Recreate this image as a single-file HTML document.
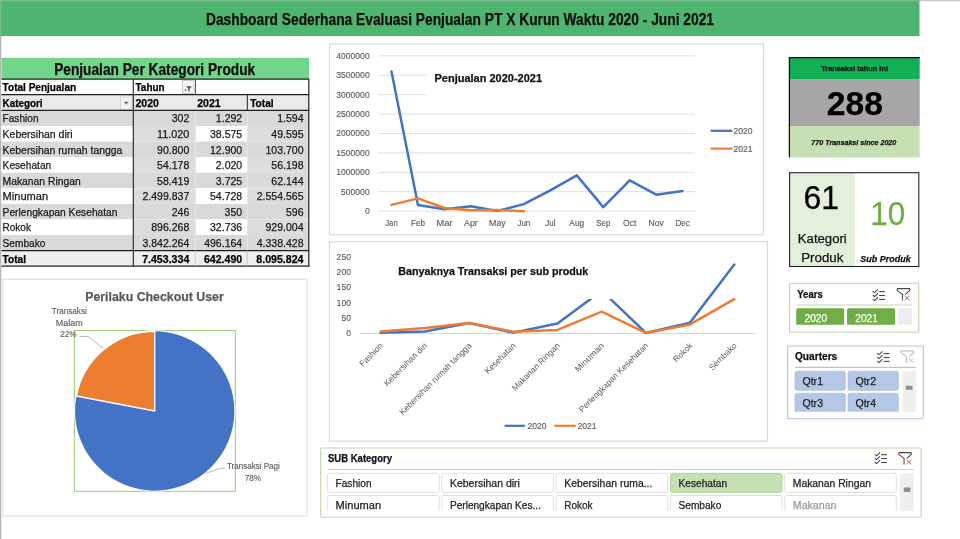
<!DOCTYPE html>
<html lang="id"><head><meta charset="utf-8"><title>Dashboard Sederhana Evaluasi Penjualan PT X</title>
<style>
html,body{margin:0;padding:0;background:#fff;}
body{width:960px;height:539px;overflow:hidden;}
svg{display:block;font-family:"Liberation Sans",sans-serif;}
</style></head><body>
<svg width="960" height="539" viewBox="0 0 960 539">
<rect x="0.00" y="0.00" width="960.00" height="1.20" fill="#cacaca"/>
<rect x="0.00" y="0.00" width="1.30" height="539.00" fill="#b6b6b6"/>
<rect x="0.00" y="0.00" width="919.50" height="36.10" fill="#4db56f"/>
<rect x="0.00" y="0.00" width="919.50" height="1.30" fill="#7dbb8f"/>
<rect x="0.00" y="0.00" width="1.30" height="36.40" fill="#7dbb8f"/>
<text x="206.00" y="24.80" font-size="17.40" font-weight="700" fill="#0d0d0d" textLength="508.00" lengthAdjust="spacingAndGlyphs" stroke="#0d0d0d" stroke-width="0.25">Dashboard Sederhana Evaluasi Penjualan PT X Kurun Waktu 2020 - Juni 2021</text>
<rect x="1.50" y="57.80" width="307.50" height="21.20" fill="#72d68a"/>
<text x="54.20" y="74.60" font-size="15.70" font-weight="700" fill="#0d0d0d" textLength="201.00" lengthAdjust="spacingAndGlyphs" stroke="#0d0d0d" stroke-width="0.25">Penjualan Per Kategori Produk</text>
<rect x="1.50" y="79.50" width="307.30" height="15.50" fill="#fff"/>
<rect x="1.50" y="95.00" width="307.30" height="15.50" fill="#e9e9e9"/>
<rect x="1.50" y="110.40" width="307.30" height="15.60" fill="#d9d9d9"/>
<text x="2.60" y="122.40" font-size="10.39" fill="#1a1a1a" textLength="35.92" lengthAdjust="spacingAndGlyphs" stroke="#1a1a1a" stroke-width="0.25">Fashion</text>
<text x="171.74" y="122.40" font-size="10.39" fill="#1a1a1a" textLength="17.56" lengthAdjust="spacingAndGlyphs" stroke="#1a1a1a" stroke-width="0.25">302</text>
<text x="215.87" y="122.40" font-size="10.39" fill="#1a1a1a" textLength="26.33" lengthAdjust="spacingAndGlyphs" stroke="#1a1a1a" stroke-width="0.25">1.292</text>
<text x="277.17" y="122.40" font-size="10.39" fill="#1a1a1a" textLength="26.33" lengthAdjust="spacingAndGlyphs" stroke="#1a1a1a" stroke-width="0.25">1.594</text>
<rect x="1.50" y="125.98" width="307.30" height="15.60" fill="#fff"/>
<rect x="133.00" y="125.98" width="62.50" height="15.60" fill="#dcdcdc"/>
<rect x="247.50" y="125.98" width="61.30" height="15.60" fill="#dcdcdc"/>
<text x="2.60" y="137.98" font-size="10.39" fill="#1a1a1a" textLength="70.03" lengthAdjust="spacingAndGlyphs" stroke="#1a1a1a" stroke-width="0.25">Kebersihan diri</text>
<text x="157.11" y="137.98" font-size="10.39" fill="#1a1a1a" textLength="32.19" lengthAdjust="spacingAndGlyphs" stroke="#1a1a1a" stroke-width="0.25">11.020</text>
<text x="210.01" y="137.98" font-size="10.39" fill="#1a1a1a" textLength="32.19" lengthAdjust="spacingAndGlyphs" stroke="#1a1a1a" stroke-width="0.25">38.575</text>
<text x="271.31" y="137.98" font-size="10.39" fill="#1a1a1a" textLength="32.19" lengthAdjust="spacingAndGlyphs" stroke="#1a1a1a" stroke-width="0.25">49.595</text>
<rect x="1.50" y="141.56" width="307.30" height="15.60" fill="#d9d9d9"/>
<text x="2.60" y="153.56" font-size="10.39" fill="#1a1a1a" textLength="119.79" lengthAdjust="spacingAndGlyphs" stroke="#1a1a1a" stroke-width="0.25">Kebersihan rumah tangga</text>
<text x="157.11" y="153.56" font-size="10.39" fill="#1a1a1a" textLength="32.19" lengthAdjust="spacingAndGlyphs" stroke="#1a1a1a" stroke-width="0.25">90.800</text>
<text x="210.01" y="153.56" font-size="10.39" fill="#1a1a1a" textLength="32.19" lengthAdjust="spacingAndGlyphs" stroke="#1a1a1a" stroke-width="0.25">12.900</text>
<text x="265.46" y="153.56" font-size="10.39" fill="#1a1a1a" textLength="38.04" lengthAdjust="spacingAndGlyphs" stroke="#1a1a1a" stroke-width="0.25">103.700</text>
<rect x="1.50" y="157.14" width="307.30" height="15.60" fill="#fff"/>
<rect x="133.00" y="157.14" width="62.50" height="15.60" fill="#dcdcdc"/>
<rect x="247.50" y="157.14" width="61.30" height="15.60" fill="#dcdcdc"/>
<text x="2.60" y="169.14" font-size="10.39" fill="#1a1a1a" textLength="48.63" lengthAdjust="spacingAndGlyphs" stroke="#1a1a1a" stroke-width="0.25">Kesehatan</text>
<text x="157.11" y="169.14" font-size="10.39" fill="#1a1a1a" textLength="32.19" lengthAdjust="spacingAndGlyphs" stroke="#1a1a1a" stroke-width="0.25">54.178</text>
<text x="215.87" y="169.14" font-size="10.39" fill="#1a1a1a" textLength="26.33" lengthAdjust="spacingAndGlyphs" stroke="#1a1a1a" stroke-width="0.25">2.020</text>
<text x="271.31" y="169.14" font-size="10.39" fill="#1a1a1a" textLength="32.19" lengthAdjust="spacingAndGlyphs" stroke="#1a1a1a" stroke-width="0.25">56.198</text>
<rect x="1.50" y="172.72" width="307.30" height="15.60" fill="#d9d9d9"/>
<text x="2.60" y="184.72" font-size="10.39" fill="#1a1a1a" textLength="78.09" lengthAdjust="spacingAndGlyphs" stroke="#1a1a1a" stroke-width="0.25">Makanan Ringan</text>
<text x="157.11" y="184.72" font-size="10.39" fill="#1a1a1a" textLength="32.19" lengthAdjust="spacingAndGlyphs" stroke="#1a1a1a" stroke-width="0.25">58.419</text>
<text x="215.87" y="184.72" font-size="10.39" fill="#1a1a1a" textLength="26.33" lengthAdjust="spacingAndGlyphs" stroke="#1a1a1a" stroke-width="0.25">3.725</text>
<text x="271.31" y="184.72" font-size="10.39" fill="#1a1a1a" textLength="32.19" lengthAdjust="spacingAndGlyphs" stroke="#1a1a1a" stroke-width="0.25">62.144</text>
<rect x="1.50" y="188.30" width="307.30" height="15.60" fill="#fff"/>
<rect x="133.00" y="188.30" width="62.50" height="15.60" fill="#dcdcdc"/>
<rect x="247.50" y="188.30" width="61.30" height="15.60" fill="#dcdcdc"/>
<text x="2.60" y="200.30" font-size="10.39" fill="#1a1a1a" textLength="45.49" lengthAdjust="spacingAndGlyphs" stroke="#1a1a1a" stroke-width="0.25">Minuman</text>
<text x="142.49" y="200.30" font-size="10.39" fill="#1a1a1a" textLength="46.81" lengthAdjust="spacingAndGlyphs" stroke="#1a1a1a" stroke-width="0.25">2.499.837</text>
<text x="210.01" y="200.30" font-size="10.39" fill="#1a1a1a" textLength="32.19" lengthAdjust="spacingAndGlyphs" stroke="#1a1a1a" stroke-width="0.25">54.728</text>
<text x="256.69" y="200.30" font-size="10.39" fill="#1a1a1a" textLength="46.81" lengthAdjust="spacingAndGlyphs" stroke="#1a1a1a" stroke-width="0.25">2.554.565</text>
<rect x="1.50" y="203.88" width="307.30" height="15.60" fill="#d9d9d9"/>
<text x="2.60" y="215.88" font-size="10.39" fill="#1a1a1a" textLength="114.90" lengthAdjust="spacingAndGlyphs" stroke="#1a1a1a" stroke-width="0.25">Perlengkapan Kesehatan</text>
<text x="171.74" y="215.88" font-size="10.39" fill="#1a1a1a" textLength="17.56" lengthAdjust="spacingAndGlyphs" stroke="#1a1a1a" stroke-width="0.25">246</text>
<text x="224.64" y="215.88" font-size="10.39" fill="#1a1a1a" textLength="17.56" lengthAdjust="spacingAndGlyphs" stroke="#1a1a1a" stroke-width="0.25">350</text>
<text x="285.94" y="215.88" font-size="10.39" fill="#1a1a1a" textLength="17.56" lengthAdjust="spacingAndGlyphs" stroke="#1a1a1a" stroke-width="0.25">596</text>
<rect x="1.50" y="219.46" width="307.30" height="15.60" fill="#fff"/>
<rect x="133.00" y="219.46" width="62.50" height="15.60" fill="#dcdcdc"/>
<rect x="247.50" y="219.46" width="61.30" height="15.60" fill="#dcdcdc"/>
<text x="2.60" y="231.46" font-size="10.39" fill="#1a1a1a" textLength="28.33" lengthAdjust="spacingAndGlyphs" stroke="#1a1a1a" stroke-width="0.25">Rokok</text>
<text x="151.26" y="231.46" font-size="10.39" fill="#1a1a1a" textLength="38.04" lengthAdjust="spacingAndGlyphs" stroke="#1a1a1a" stroke-width="0.25">896.268</text>
<text x="210.01" y="231.46" font-size="10.39" fill="#1a1a1a" textLength="32.19" lengthAdjust="spacingAndGlyphs" stroke="#1a1a1a" stroke-width="0.25">32.736</text>
<text x="265.46" y="231.46" font-size="10.39" fill="#1a1a1a" textLength="38.04" lengthAdjust="spacingAndGlyphs" stroke="#1a1a1a" stroke-width="0.25">929.004</text>
<rect x="1.50" y="235.04" width="307.30" height="15.60" fill="#d9d9d9"/>
<text x="2.60" y="247.04" font-size="10.39" fill="#1a1a1a" textLength="42.83" lengthAdjust="spacingAndGlyphs" stroke="#1a1a1a" stroke-width="0.25">Sembako</text>
<text x="142.49" y="247.04" font-size="10.39" fill="#1a1a1a" textLength="46.81" lengthAdjust="spacingAndGlyphs" stroke="#1a1a1a" stroke-width="0.25">3.842.264</text>
<text x="204.16" y="247.04" font-size="10.39" fill="#1a1a1a" textLength="38.04" lengthAdjust="spacingAndGlyphs" stroke="#1a1a1a" stroke-width="0.25">496.164</text>
<text x="256.69" y="247.04" font-size="10.39" fill="#1a1a1a" textLength="46.81" lengthAdjust="spacingAndGlyphs" stroke="#1a1a1a" stroke-width="0.25">4.338.428</text>
<line x1="195.50" y1="110.50" x2="195.50" y2="250.50" stroke="#e6e6e6" stroke-width="1"/>
<line x1="247.50" y1="110.50" x2="247.50" y2="250.50" stroke="#e6e6e6" stroke-width="1"/>
<rect x="1.50" y="250.60" width="307.30" height="15.50" fill="#eeeeee"/>
<text x="2.60" y="262.80" font-size="10.39" font-weight="700" fill="#000" textLength="23.36" lengthAdjust="spacingAndGlyphs" stroke="#000" stroke-width="0.25">Total</text>
<text x="142.15" y="262.80" font-size="10.39" font-weight="700" fill="#000" textLength="47.15" lengthAdjust="spacingAndGlyphs" stroke="#000" stroke-width="0.25">7.453.334</text>
<text x="203.99" y="262.80" font-size="10.39" font-weight="700" fill="#000" textLength="38.21" lengthAdjust="spacingAndGlyphs" stroke="#000" stroke-width="0.25">642.490</text>
<text x="256.35" y="262.80" font-size="10.39" font-weight="700" fill="#000" textLength="47.15" lengthAdjust="spacingAndGlyphs" stroke="#000" stroke-width="0.25">8.095.824</text>
<text x="2.60" y="91.00" font-size="10.39" font-weight="700" fill="#000" textLength="73.53" lengthAdjust="spacingAndGlyphs" stroke="#000" stroke-width="0.25">Total Penjualan</text>
<text x="135.50" y="91.00" font-size="10.39" font-weight="700" fill="#000" textLength="29.14" lengthAdjust="spacingAndGlyphs" stroke="#000" stroke-width="0.25">Tahun</text>
<text x="2.60" y="106.60" font-size="10.39" font-weight="700" fill="#000" textLength="39.96" lengthAdjust="spacingAndGlyphs" stroke="#000" stroke-width="0.25">Kategori</text>
<text x="135.50" y="106.60" font-size="10.39" font-weight="700" fill="#000" textLength="23.42" lengthAdjust="spacingAndGlyphs" stroke="#000" stroke-width="0.25">2020</text>
<text x="197.20" y="106.60" font-size="10.39" font-weight="700" fill="#000" textLength="23.42" lengthAdjust="spacingAndGlyphs" stroke="#000" stroke-width="0.25">2021</text>
<text x="250.20" y="106.60" font-size="10.39" font-weight="700" fill="#000" textLength="23.36" lengthAdjust="spacingAndGlyphs" stroke="#000" stroke-width="0.25">Total</text>
<rect x="182.50" y="80.50" width="11.50" height="13.00" fill="#f4f4f4" stroke="#bdbdbd" stroke-width="0.8"/>
<path d="M186.2 86.2h5.6l-2.1 2.6v3l-1.4-.9v-2.1z" fill="#555"/><path d="M184.2 89.6h2.6l-1.3 1.6z" fill="#555"/>
<rect x="120.50" y="96.00" width="11.50" height="13.50" fill="#f1f1f1" stroke="#cfcfcf" stroke-width="0.8"/>
<path d="M123.8 101.8h4.8l-2.4 2.8z" fill="#666"/>
<line x1="1.50" y1="79.10" x2="309.30" y2="79.10" stroke="#1f1f1f" stroke-width="1.2"/>
<line x1="1.50" y1="94.70" x2="309.30" y2="94.70" stroke="#1f1f1f" stroke-width="1.2"/>
<line x1="1.50" y1="110.30" x2="309.30" y2="110.30" stroke="#1f1f1f" stroke-width="1.2"/>
<line x1="1.50" y1="250.70" x2="309.30" y2="250.70" stroke="#1f1f1f" stroke-width="1.2"/>
<line x1="1.50" y1="266.20" x2="309.30" y2="266.20" stroke="#1f1f1f" stroke-width="1.2"/>
<line x1="133.30" y1="79.20" x2="133.30" y2="266.20" stroke="#1f1f1f" stroke-width="1.1"/>
<line x1="308.80" y1="79.20" x2="308.80" y2="266.20" stroke="#1f1f1f" stroke-width="1.2"/>
<line x1="195.50" y1="79.20" x2="195.50" y2="94.70" stroke="#555" stroke-width="1"/>
<line x1="247.30" y1="94.70" x2="247.30" y2="110.10" stroke="#1f1f1f" stroke-width="1"/>
<line x1="247.30" y1="250.70" x2="247.30" y2="266.20" stroke="#bbb" stroke-width="0.8"/>
<line x1="195.30" y1="250.70" x2="195.30" y2="266.20" stroke="#ccc" stroke-width="0.8"/>
<rect x="329.50" y="44.00" width="434.00" height="190.80" fill="#fff" stroke="#d9d9d9" stroke-width="1.2"/>
<line x1="378.50" y1="211.10" x2="695.00" y2="211.10" stroke="#d9d9d9" stroke-width="0.9"/>
<text x="364.91" y="213.90" font-size="8.50" fill="#595959" textLength="4.79" lengthAdjust="spacingAndGlyphs" stroke="#595959" stroke-width="0.12">0</text>
<line x1="378.50" y1="191.70" x2="695.00" y2="191.70" stroke="#d9d9d9" stroke-width="0.9"/>
<text x="340.96" y="194.50" font-size="8.50" fill="#595959" textLength="28.74" lengthAdjust="spacingAndGlyphs" stroke="#595959" stroke-width="0.12">500000</text>
<line x1="378.50" y1="172.30" x2="695.00" y2="172.30" stroke="#d9d9d9" stroke-width="0.9"/>
<text x="336.17" y="175.10" font-size="8.50" fill="#595959" textLength="33.53" lengthAdjust="spacingAndGlyphs" stroke="#595959" stroke-width="0.12">1000000</text>
<line x1="378.50" y1="152.90" x2="695.00" y2="152.90" stroke="#d9d9d9" stroke-width="0.9"/>
<text x="336.17" y="155.70" font-size="8.50" fill="#595959" textLength="33.53" lengthAdjust="spacingAndGlyphs" stroke="#595959" stroke-width="0.12">1500000</text>
<line x1="378.50" y1="133.50" x2="695.00" y2="133.50" stroke="#d9d9d9" stroke-width="0.9"/>
<text x="336.17" y="136.30" font-size="8.50" fill="#595959" textLength="33.53" lengthAdjust="spacingAndGlyphs" stroke="#595959" stroke-width="0.12">2000000</text>
<line x1="378.50" y1="114.10" x2="695.00" y2="114.10" stroke="#d9d9d9" stroke-width="0.9"/>
<text x="336.17" y="116.90" font-size="8.50" fill="#595959" textLength="33.53" lengthAdjust="spacingAndGlyphs" stroke="#595959" stroke-width="0.12">2500000</text>
<line x1="378.50" y1="94.70" x2="695.00" y2="94.70" stroke="#d9d9d9" stroke-width="0.9"/>
<text x="336.17" y="97.50" font-size="8.50" fill="#595959" textLength="33.53" lengthAdjust="spacingAndGlyphs" stroke="#595959" stroke-width="0.12">3000000</text>
<line x1="378.50" y1="75.30" x2="695.00" y2="75.30" stroke="#d9d9d9" stroke-width="0.9"/>
<text x="336.17" y="78.10" font-size="8.50" fill="#595959" textLength="33.53" lengthAdjust="spacingAndGlyphs" stroke="#595959" stroke-width="0.12">3500000</text>
<line x1="378.50" y1="55.90" x2="695.00" y2="55.90" stroke="#d9d9d9" stroke-width="0.9"/>
<text x="336.17" y="58.70" font-size="8.50" fill="#595959" textLength="33.53" lengthAdjust="spacingAndGlyphs" stroke="#595959" stroke-width="0.12">4000000</text>
<rect x="427.00" y="66.00" width="290.00" height="37.00" fill="#fff"/>
<text x="434.50" y="81.80" font-size="11.34" font-weight="700" fill="#111" textLength="107.50" lengthAdjust="spacingAndGlyphs" stroke="#111" stroke-width="0.25">Penjualan 2020-2021</text>
<text x="385.25" y="225.80" font-size="8.50" fill="#595959" textLength="12.50" lengthAdjust="spacingAndGlyphs" stroke="#595959" stroke-width="0.12">Jan</text>
<text x="411.03" y="225.80" font-size="8.50" fill="#595959" textLength="13.87" lengthAdjust="spacingAndGlyphs" stroke="#595959" stroke-width="0.12">Feb</text>
<text x="436.49" y="225.80" font-size="8.50" fill="#595959" textLength="15.90" lengthAdjust="spacingAndGlyphs" stroke="#595959" stroke-width="0.12">Mar</text>
<text x="464.05" y="225.80" font-size="8.50" fill="#595959" textLength="13.73" lengthAdjust="spacingAndGlyphs" stroke="#595959" stroke-width="0.12">Apr</text>
<text x="489.03" y="225.80" font-size="8.50" fill="#595959" textLength="16.71" lengthAdjust="spacingAndGlyphs" stroke="#595959" stroke-width="0.12">May</text>
<text x="517.38" y="225.80" font-size="8.50" fill="#595959" textLength="12.94" lengthAdjust="spacingAndGlyphs" stroke="#595959" stroke-width="0.12">Jun</text>
<text x="545.25" y="225.80" font-size="8.50" fill="#595959" textLength="10.15" lengthAdjust="spacingAndGlyphs" stroke="#595959" stroke-width="0.12">Jul</text>
<text x="569.35" y="225.80" font-size="8.50" fill="#595959" textLength="14.88" lengthAdjust="spacingAndGlyphs" stroke="#595959" stroke-width="0.12">Aug</text>
<text x="596.26" y="225.80" font-size="8.50" fill="#595959" textLength="14.01" lengthAdjust="spacingAndGlyphs" stroke="#595959" stroke-width="0.12">Sep</text>
<text x="623.02" y="225.80" font-size="8.50" fill="#595959" textLength="13.42" lengthAdjust="spacingAndGlyphs" stroke="#595959" stroke-width="0.12">Oct</text>
<text x="648.54" y="225.80" font-size="8.50" fill="#595959" textLength="15.31" lengthAdjust="spacingAndGlyphs" stroke="#595959" stroke-width="0.12">Nov</text>
<text x="675.41" y="225.80" font-size="8.50" fill="#595959" textLength="14.51" lengthAdjust="spacingAndGlyphs" stroke="#595959" stroke-width="0.12">Dec</text>
<polyline points="391.50,71.40 417.97,204.90 444.44,209.15 470.91,206.15 497.38,210.90 523.85,204.15 550.32,190.40 576.79,175.40 603.26,207.15 629.73,180.40 656.20,194.65 682.67,190.90" fill="none" stroke="#4472c4" stroke-width="2.5" stroke-linejoin="round" stroke-linecap="round"/>
<polyline points="391.50,204.90 417.97,198.40 444.44,208.00 470.91,210.30 497.38,210.00 523.85,211.20" fill="none" stroke="#ed7d31" stroke-width="2.5" stroke-linejoin="round" stroke-linecap="round"/>
<line x1="710.60" y1="130.80" x2="732.40" y2="130.80" stroke="#4472c4" stroke-width="2.2"/>
<text x="733.50" y="133.90" font-size="8.50" fill="#595959" textLength="19.16" lengthAdjust="spacingAndGlyphs" stroke="#595959" stroke-width="0.12">2020</text>
<line x1="710.60" y1="148.60" x2="732.40" y2="148.60" stroke="#ed7d31" stroke-width="2.2"/>
<text x="733.50" y="151.80" font-size="8.50" fill="#595959" textLength="19.16" lengthAdjust="spacingAndGlyphs" stroke="#595959" stroke-width="0.12">2021</text>
<rect x="329.50" y="241.70" width="438.00" height="199.50" fill="#fff" stroke="#d9d9d9" stroke-width="1.2"/>
<text x="346.21" y="335.90" font-size="8.50" fill="#595959" textLength="4.79" lengthAdjust="spacingAndGlyphs" stroke="#595959" stroke-width="0.12">0</text>
<text x="341.42" y="320.70" font-size="8.50" fill="#595959" textLength="9.58" lengthAdjust="spacingAndGlyphs" stroke="#595959" stroke-width="0.12">50</text>
<text x="336.63" y="305.50" font-size="8.50" fill="#595959" textLength="14.37" lengthAdjust="spacingAndGlyphs" stroke="#595959" stroke-width="0.12">100</text>
<text x="336.63" y="290.30" font-size="8.50" fill="#595959" textLength="14.37" lengthAdjust="spacingAndGlyphs" stroke="#595959" stroke-width="0.12">150</text>
<text x="336.63" y="275.10" font-size="8.50" fill="#595959" textLength="14.37" lengthAdjust="spacingAndGlyphs" stroke="#595959" stroke-width="0.12">200</text>
<text x="336.63" y="259.90" font-size="8.50" fill="#595959" textLength="14.37" lengthAdjust="spacingAndGlyphs" stroke="#595959" stroke-width="0.12">250</text>
<line x1="360.00" y1="333.55" x2="755.50" y2="333.55" stroke="#d0d0d0" stroke-width="0.9"/>
<polyline points="380.70,332.64 424.90,331.42 469.10,322.91 513.30,332.64 557.50,323.52 601.70,290.69 645.90,332.94 690.10,322.61 734.30,264.54" fill="none" stroke="#4472c4" stroke-width="2.5" stroke-linejoin="round" stroke-linecap="round"/>
<rect x="392.00" y="262.00" width="235.00" height="37.00" fill="#fff"/>
<polyline points="380.70,331.42 424.90,328.08 469.10,322.91 513.30,331.73 557.50,329.90 601.70,311.66 645.90,332.94 690.10,324.43 734.30,299.20" fill="none" stroke="#ed7d31" stroke-width="2.5" stroke-linejoin="round" stroke-linecap="round"/>
<text x="398.30" y="275.00" font-size="11.34" font-weight="700" fill="#111" textLength="190.00" lengthAdjust="spacingAndGlyphs" stroke="#111" stroke-width="0.25">Banyaknya Transaksi per sub produk</text>
<text transform="translate(383.60,346.20) rotate(-45)" x="-29.39" y="0" font-size="8.50" fill="#595959" textLength="29.39" lengthAdjust="spacingAndGlyphs">Fashion</text>
<text transform="translate(427.80,346.20) rotate(-45)" x="-57.30" y="0" font-size="8.50" fill="#595959" textLength="57.30" lengthAdjust="spacingAndGlyphs">Kebersihan diri</text>
<text transform="translate(472.00,346.20) rotate(-45)" x="-98.01" y="0" font-size="8.50" fill="#595959" textLength="98.01" lengthAdjust="spacingAndGlyphs">Kebersihan rumah tangga</text>
<text transform="translate(516.20,346.20) rotate(-45)" x="-39.78" y="0" font-size="8.50" fill="#595959" textLength="39.78" lengthAdjust="spacingAndGlyphs">Kesehatan</text>
<text transform="translate(560.40,346.20) rotate(-45)" x="-63.89" y="0" font-size="8.50" fill="#595959" textLength="63.89" lengthAdjust="spacingAndGlyphs">Makanan Ringan</text>
<text transform="translate(604.60,346.20) rotate(-45)" x="-37.22" y="0" font-size="8.50" fill="#595959" textLength="37.22" lengthAdjust="spacingAndGlyphs">Minuman</text>
<text transform="translate(648.80,346.20) rotate(-45)" x="-94.01" y="0" font-size="8.50" fill="#595959" textLength="94.01" lengthAdjust="spacingAndGlyphs">Perlengkapan Kesehatan</text>
<text transform="translate(693.00,346.20) rotate(-45)" x="-23.18" y="0" font-size="8.50" fill="#595959" textLength="23.18" lengthAdjust="spacingAndGlyphs">Rokok</text>
<text transform="translate(737.20,346.20) rotate(-45)" x="-35.05" y="0" font-size="8.50" fill="#595959" textLength="35.05" lengthAdjust="spacingAndGlyphs">Sembako</text>
<line x1="504.60" y1="425.80" x2="525.00" y2="425.80" stroke="#4472c4" stroke-width="2.2"/>
<text x="527.50" y="428.90" font-size="8.50" fill="#595959" textLength="19.16" lengthAdjust="spacingAndGlyphs" stroke="#595959" stroke-width="0.12">2020</text>
<line x1="554.40" y1="425.80" x2="575.60" y2="425.80" stroke="#ed7d31" stroke-width="2.2"/>
<text x="577.50" y="428.90" font-size="8.50" fill="#595959" textLength="19.16" lengthAdjust="spacingAndGlyphs" stroke="#595959" stroke-width="0.12">2021</text>
<rect x="2.70" y="279.20" width="304.30" height="236.80" fill="#fff" stroke="#d9d9d9" stroke-width="1"/>
<text x="85.20" y="300.50" font-size="13.23" font-weight="700" fill="#595959" textLength="138.60" lengthAdjust="spacingAndGlyphs" stroke="#595959" stroke-width="0.25">Perilaku Checkout User</text>
<rect x="74.40" y="330.60" width="160.90" height="160.70" fill="none" stroke="#9ccc74" stroke-width="1"/>
<circle cx="154.7" cy="411" r="80.2" fill="#4472c4" stroke="#fff" stroke-width="1.1"/>
<path d="M154.7 411 L154.7 331.2 A79.8 79.8 0 0 0 76.31 396.05 Z" fill="#ed7d31" stroke="#fff" stroke-width="1.4" stroke-linejoin="round"/>
<text x="51.85" y="313.80" font-size="8.50" fill="#595959" textLength="34.91" lengthAdjust="spacingAndGlyphs" stroke="#595959" stroke-width="0.12">Transaksi</text>
<text x="55.87" y="325.50" font-size="8.50" fill="#595959" textLength="26.85" lengthAdjust="spacingAndGlyphs" stroke="#595959" stroke-width="0.12">Malam</text>
<text x="60.23" y="337.10" font-size="8.50" fill="#595959" textLength="16.34" lengthAdjust="spacingAndGlyphs" stroke="#595959" stroke-width="0.12">22%</text>
<polyline points="79.5,336.3 88,336.5 103.3,348.3" fill="none" stroke="#a6a6a6" stroke-width="0.8"/>
<text x="226.97" y="468.80" font-size="8.50" fill="#595959" textLength="52.87" lengthAdjust="spacingAndGlyphs" stroke="#595959" stroke-width="0.12">Transaksi Pagi</text>
<text x="244.63" y="480.50" font-size="8.50" fill="#595959" textLength="16.34" lengthAdjust="spacingAndGlyphs" stroke="#595959" stroke-width="0.12">78%</text>
<polyline points="206.3,473.3 218.8,468.8 225,468.2" fill="none" stroke="#a6a6a6" stroke-width="0.8"/>
<rect x="789.00" y="57.40" width="130.70" height="22.20" fill="#12b054"/>
<rect x="789.00" y="79.60" width="130.70" height="46.40" fill="#a6a6a6"/>
<rect x="789.00" y="126.00" width="130.70" height="31.40" fill="#c6e0b4"/>
<line x1="789.00" y1="57.60" x2="919.70" y2="57.60" stroke="#111" stroke-width="1.2"/>
<line x1="789.40" y1="57.00" x2="789.40" y2="157.40" stroke="#111" stroke-width="1.3"/>
<text x="821.20" y="71.20" font-size="7.56" font-weight="700" fill="#111" textLength="66.80" lengthAdjust="spacingAndGlyphs" stroke="#111" stroke-width="0.25">Transaksi tahun ini</text>
<text x="826.75" y="114.60" font-size="33.64" font-weight="700" fill="#000" textLength="56.10" lengthAdjust="spacingAndGlyphs" stroke="#000" stroke-width="0.25">288</text>
<text x="811.30" y="144.70" font-size="7.56" font-weight="700" font-style="italic" fill="#111" textLength="85.00" lengthAdjust="spacingAndGlyphs" stroke="#111" stroke-width="0.25">770 Transaksi since 2020</text>
<rect x="789.60" y="172.70" width="129.20" height="93.80" fill="#fff"/>
<rect x="789.60" y="172.70" width="65.00" height="93.80" fill="#e2efda"/>
<rect x="789.60" y="172.70" width="129.20" height="93.80" fill="none" stroke="#222" stroke-width="1.1"/>
<text x="803.40" y="209.00" font-size="33.38" fill="#000" textLength="35.60" lengthAdjust="spacingAndGlyphs" stroke="#000" stroke-width="0.25">61</text>
<text x="797.80" y="242.90" font-size="13.23" fill="#111" textLength="49.00" lengthAdjust="spacingAndGlyphs" stroke="#111" stroke-width="0.25">Kategori</text>
<text x="801.15" y="262.00" font-size="13.23" fill="#111" textLength="42.30" lengthAdjust="spacingAndGlyphs" stroke="#111" stroke-width="0.25">Produk</text>
<text x="870.20" y="225.00" font-size="33.38" fill="#70ad47" textLength="35.00" lengthAdjust="spacingAndGlyphs" stroke="#70ad47" stroke-width="0.25">10</text>
<text x="860.20" y="262.00" font-size="9.45" font-weight="700" font-style="italic" fill="#111" textLength="50.60" lengthAdjust="spacingAndGlyphs" stroke="#111" stroke-width="0.25">Sub Produk</text>
<rect x="789.50" y="283.30" width="129.20" height="48.90" fill="#fff" stroke="#bdd6ae" stroke-width="1.1" rx="1"/>
<text x="797.20" y="297.50" font-size="10.39" font-weight="700" fill="#111" textLength="25.60" lengthAdjust="spacingAndGlyphs" stroke="#111" stroke-width="0.25">Years</text>
<line x1="797.00" y1="305.00" x2="911.70" y2="305.00" stroke="#bfdbae" stroke-width="1.1"/>
<polyline points="872.70,291.30 874.60,292.65 878.00,289.30" fill="none" stroke="#484848" stroke-width="1.05"/>
<line x1="879.10" y1="291.60" x2="885.00" y2="291.60" stroke="#484848" stroke-width="1.1"/>
<polyline points="872.70,295.20 874.60,296.55 878.00,293.20" fill="none" stroke="#484848" stroke-width="1.05"/>
<line x1="879.10" y1="295.50" x2="885.00" y2="295.50" stroke="#484848" stroke-width="1.1"/>
<polyline points="872.70,299.10 874.60,300.45 878.00,297.10" fill="none" stroke="#484848" stroke-width="1.05"/>
<line x1="879.10" y1="299.40" x2="885.00" y2="299.40" stroke="#484848" stroke-width="1.1"/>
<path d="M897.20 288.60H909.70V290.40L905.45 294.40M897.20 288.60V290.40L902.50 294.40V300.40" fill="none" stroke="#484848" stroke-width="1.05" stroke-linejoin="round"/>
<path d="M904.70 295.70L909.70 300.40M909.70 295.70L904.70 300.40" stroke="#e0565b" stroke-width="1" fill="none"/>
<clipPath id="cy"><rect x="790" y="306" width="128" height="18.7"/></clipPath><g clip-path="url(#cy)">
<rect x="796.20" y="308.30" width="48.00" height="20.00" fill="#70ad47" rx="1.5"/>
<rect x="847.00" y="308.30" width="48.00" height="20.00" fill="#70ad47" rx="1.5"/>
</g>
<text x="804.50" y="321.80" font-size="10.39" fill="#fff" textLength="22.60" lengthAdjust="spacingAndGlyphs" stroke="#fff" stroke-width="0.25">2020</text>
<text x="855.30" y="321.80" font-size="10.39" fill="#fff" textLength="22.60" lengthAdjust="spacingAndGlyphs" stroke="#fff" stroke-width="0.25">2021</text>
<rect x="898.30" y="308.30" width="13.90" height="16.40" fill="#ededed"/>
<rect x="787.60" y="346.00" width="135.70" height="72.80" fill="#fff" stroke="#b4c1d9" stroke-width="1.1" rx="1"/>
<text x="795.00" y="360.30" font-size="10.39" font-weight="700" fill="#111" textLength="42.20" lengthAdjust="spacingAndGlyphs" stroke="#111" stroke-width="0.25">Quarters</text>
<line x1="795.00" y1="367.30" x2="916.20" y2="367.30" stroke="#a5b6d6" stroke-width="1"/>
<polyline points="877.20,353.30 879.10,354.65 882.50,351.30" fill="none" stroke="#484848" stroke-width="1.05"/>
<line x1="883.60" y1="353.60" x2="889.50" y2="353.60" stroke="#484848" stroke-width="1.1"/>
<polyline points="877.20,357.20 879.10,358.55 882.50,355.20" fill="none" stroke="#484848" stroke-width="1.05"/>
<line x1="883.60" y1="357.50" x2="889.50" y2="357.50" stroke="#484848" stroke-width="1.1"/>
<polyline points="877.20,361.10 879.10,362.45 882.50,359.10" fill="none" stroke="#484848" stroke-width="1.05"/>
<line x1="883.60" y1="361.40" x2="889.50" y2="361.40" stroke="#484848" stroke-width="1.1"/>
<path d="M901.00 350.90H913.50V352.70L909.25 356.70M901.00 350.90V352.70L906.30 356.70V362.70" fill="none" stroke="#b4b4b4" stroke-width="1.05" stroke-linejoin="round"/>
<path d="M908.50 358.00L913.50 362.70M913.50 358.00L908.50 362.70" stroke="#c4c4c4" stroke-width="1" fill="none"/>
<clipPath id="cq"><rect x="788" y="368" width="134" height="43.7"/></clipPath><g clip-path="url(#cq)">
<rect x="795.00" y="371.20" width="50.30" height="19.10" fill="#b4c7e7" stroke="#a9bbdd" stroke-width="0.7" rx="2"/>
<rect x="848.00" y="371.20" width="50.30" height="19.10" fill="#b4c7e7" stroke="#a9bbdd" stroke-width="0.7" rx="2"/>
<rect x="795.00" y="393.30" width="50.30" height="19.10" fill="#b4c7e7" stroke="#a9bbdd" stroke-width="0.7" rx="2"/>
<rect x="848.00" y="393.30" width="50.30" height="19.10" fill="#b4c7e7" stroke="#a9bbdd" stroke-width="0.7" rx="2"/>
</g>
<text x="802.50" y="384.50" font-size="10.39" fill="#222" textLength="20.50" lengthAdjust="spacingAndGlyphs" stroke="#222" stroke-width="0.25">Qtr1</text>
<text x="855.50" y="384.50" font-size="10.39" fill="#222" textLength="20.50" lengthAdjust="spacingAndGlyphs" stroke="#222" stroke-width="0.25">Qtr2</text>
<text x="802.50" y="406.70" font-size="10.39" fill="#222" textLength="20.50" lengthAdjust="spacingAndGlyphs" stroke="#222" stroke-width="0.25">Qtr3</text>
<text x="855.50" y="406.70" font-size="10.39" fill="#222" textLength="20.50" lengthAdjust="spacingAndGlyphs" stroke="#222" stroke-width="0.25">Qtr4</text>
<rect x="902.50" y="371.20" width="13.70" height="40.50" fill="#efefef"/>
<rect x="905.80" y="385.80" width="6.70" height="3.90" fill="#8c8c8c"/>
<rect x="320.70" y="448.00" width="600.50" height="69.30" fill="#fff" stroke="#bdd6ae" stroke-width="1.1" rx="1"/>
<text x="328.00" y="462.00" font-size="10.39" font-weight="700" fill="#111" textLength="64.00" lengthAdjust="spacingAndGlyphs" stroke="#111" stroke-width="0.25">SUB Kategory</text>
<line x1="328.00" y1="469.50" x2="913.70" y2="469.50" stroke="#bfdbae" stroke-width="1.1"/>
<polyline points="874.70,454.40 876.60,455.75 880.00,452.40" fill="none" stroke="#484848" stroke-width="1.05"/>
<line x1="881.10" y1="454.70" x2="887.00" y2="454.70" stroke="#484848" stroke-width="1.1"/>
<polyline points="874.70,458.30 876.60,459.65 880.00,456.30" fill="none" stroke="#484848" stroke-width="1.05"/>
<line x1="881.10" y1="458.60" x2="887.00" y2="458.60" stroke="#484848" stroke-width="1.1"/>
<polyline points="874.70,462.20 876.60,463.55 880.00,460.20" fill="none" stroke="#484848" stroke-width="1.05"/>
<line x1="881.10" y1="462.50" x2="887.00" y2="462.50" stroke="#484848" stroke-width="1.1"/>
<path d="M898.75 452.60H911.25V454.40L907.00 458.40M898.75 452.60V454.40L904.05 458.40V464.40" fill="none" stroke="#484848" stroke-width="1.05" stroke-linejoin="round"/>
<path d="M906.25 459.70L911.25 464.40M911.25 459.70L906.25 464.40" stroke="#e0565b" stroke-width="1" fill="none"/>
<clipPath id="cs"><rect x="321" y="470" width="600" height="40.8"/></clipPath><g clip-path="url(#cs)">
<rect x="327.60" y="473.30" width="111.50" height="19.20" fill="#fff" stroke="#d6d6d6" stroke-width="0.8" rx="2"/>
<rect x="441.90" y="473.30" width="111.50" height="19.20" fill="#fff" stroke="#d6d6d6" stroke-width="0.8" rx="2"/>
<rect x="556.20" y="473.30" width="111.50" height="19.20" fill="#fff" stroke="#d6d6d6" stroke-width="0.8" rx="2"/>
<rect x="670.50" y="473.30" width="111.50" height="19.20" fill="#c5e0b3" stroke="#a8cf8d" stroke-width="0.8" rx="2"/>
<rect x="784.80" y="473.30" width="111.50" height="19.20" fill="#fff" stroke="#d6d6d6" stroke-width="0.8" rx="2"/>
<rect x="327.60" y="495.50" width="111.50" height="19.20" fill="#fff" stroke="#d6d6d6" stroke-width="0.8" rx="2"/>
<rect x="441.90" y="495.50" width="111.50" height="19.20" fill="#fff" stroke="#d6d6d6" stroke-width="0.8" rx="2"/>
<rect x="556.20" y="495.50" width="111.50" height="19.20" fill="#fff" stroke="#d6d6d6" stroke-width="0.8" rx="2"/>
<rect x="670.50" y="495.50" width="111.50" height="19.20" fill="#fff" stroke="#d6d6d6" stroke-width="0.8" rx="2"/>
<rect x="784.80" y="495.50" width="111.50" height="19.20" fill="#fff" stroke="#d6d6d6" stroke-width="0.8" rx="2"/>
</g>
<text x="335.60" y="486.80" font-size="10.39" fill="#222" textLength="35.92" lengthAdjust="spacingAndGlyphs" stroke="#222" stroke-width="0.25">Fashion</text>
<text x="449.90" y="486.80" font-size="10.39" fill="#222" textLength="70.03" lengthAdjust="spacingAndGlyphs" stroke="#222" stroke-width="0.25">Kebersihan diri</text>
<text x="564.20" y="486.80" font-size="10.39" fill="#222" textLength="88.23" lengthAdjust="spacingAndGlyphs" stroke="#222" stroke-width="0.25">Kebersihan ruma...</text>
<text x="678.50" y="486.80" font-size="10.39" fill="#222" textLength="48.63" lengthAdjust="spacingAndGlyphs" stroke="#222" stroke-width="0.25">Kesehatan</text>
<text x="792.80" y="486.80" font-size="10.39" fill="#222" textLength="78.09" lengthAdjust="spacingAndGlyphs" stroke="#222" stroke-width="0.25">Makanan Ringan</text>
<text x="335.60" y="508.80" font-size="10.39" fill="#222" textLength="45.49" lengthAdjust="spacingAndGlyphs" stroke="#222" stroke-width="0.25">Minuman</text>
<text x="449.90" y="508.80" font-size="10.39" fill="#222" textLength="91.08" lengthAdjust="spacingAndGlyphs" stroke="#222" stroke-width="0.25">Perlengkapan Kes...</text>
<text x="564.20" y="508.80" font-size="10.39" fill="#222" textLength="28.33" lengthAdjust="spacingAndGlyphs" stroke="#222" stroke-width="0.25">Rokok</text>
<text x="678.50" y="508.80" font-size="10.39" fill="#222" textLength="42.83" lengthAdjust="spacingAndGlyphs" stroke="#222" stroke-width="0.25">Sembako</text>
<text x="792.80" y="508.80" font-size="10.39" fill="#9a9a9a" textLength="43.66" lengthAdjust="spacingAndGlyphs" stroke="#9a9a9a" stroke-width="0.25">Makanan</text>
<rect x="900.00" y="473.30" width="13.80" height="37.50" fill="#efefef"/>
<rect x="903.80" y="487.50" width="6.70" height="4.40" fill="#8c8c8c"/>
</svg>
</body></html>
